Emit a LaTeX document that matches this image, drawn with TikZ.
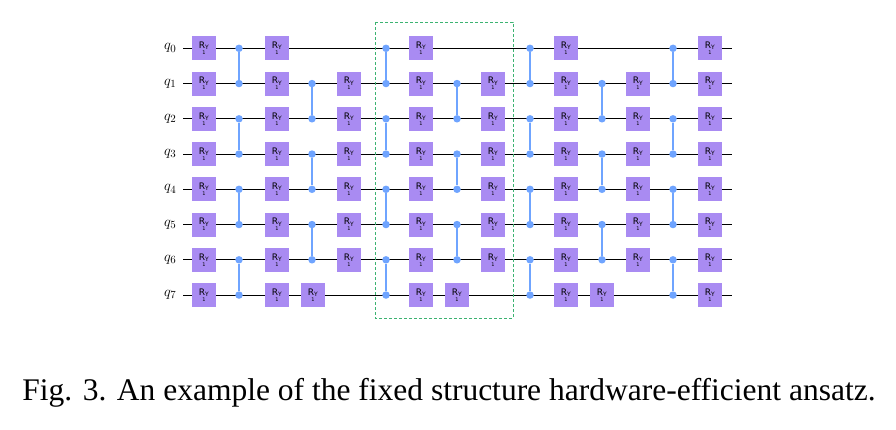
\documentclass[tikz,border=0pt]{standalone}
\usepackage{fontspec}
\setmainfont{Liberation Serif}
\newfontfamily\gatefont{DejaVu Sans}
\definecolor{gatecolor}{HTML}{A98BF2}
\definecolor{czcolor}{HTML}{6FA4FF}
\definecolor{boxcolor}{HTML}{3CB371}
\tikzset{
  wire/.style={line width=0.9pt, black},
  ry/.style={draw=none, fill=gatecolor, minimum width=24pt, minimum height=24pt, inner sep=0pt,
    font=\gatefont\fontsize{9pt}{9pt}\selectfont, align=center},
  dot/.style={circle, fill=czcolor, inner sep=0pt, minimum size=7.5pt},
  cz/.style={czcolor, line width=1.5pt},
  qlabel/.style={anchor=east, font=\fontsize{15pt}{15pt}\selectfont},
}
\newcommand{\rytext}{R\textsubscript{Y}\\[-3pt]{\fontsize{5pt}{5pt}\selectfont 1}}
\begin{document}
\begin{tikzpicture}[x=1pt, y=-1pt]
\useasboundingbox (0,0) rectangle (896,430);
% wires
\foreach \i in {0,...,7} {
  \pgfmathsetmacro{\yy}{48.3+35.25*\i}
  \coordinate (w\i s) at (183,\yy);
  \coordinate (w\i e) at (732,\yy);
  \draw[wire] (w\i s) -- (w\i e);
  \node[qlabel] (lab\i) at (180,\yy) {$q_{\i}$};
}
% dashed box
\draw[boxcolor, densely dashed, line width=0.6pt] (375,22) rectangle (513,318);
% full RY columns
\foreach \c/\x in {a/204, b/277, c/421, d/566, e/710} {
  \foreach \i in {0,...,7} {
    \node[ry] (ry\c\i) at (\x,{48.3+35.25*\i}) {\rytext};
  }
}
% partial RY columns (q1..q6) and extra RY on q7
\foreach \c/\x/\xs in {f/349/313, g/493/457, h/638/602} {
  \foreach \i in {1,...,6} {
    \node[ry] (ry\c\i) at (\x,{48.3+35.25*\i}) {\rytext};
  }
  \node[ry] (ry\c7) at (\xs,{48.3+35.25*7}) {\rytext};
}
% CZ layer on pairs (0,1),(2,3),(4,5),(6,7)
\foreach \c/\x in {p/239, q/386, r/530, s/673} {
  \foreach \i/\j in {0/1, 2/3, 4/5, 6/7} {
    \node[dot] (cz\c\i) at (\x,{48.3+35.25*\i}) {};
    \node[dot] (cz\c\j) at (\x,{48.3+35.25*\j}) {};
    \draw[cz] (cz\c\i) -- (cz\c\j);
  }
}
% CZ layer on pairs (1,2),(3,4),(5,6)
\foreach \c/\x in {t/312, u/457, v/602} {
  \foreach \i/\j in {1/2, 3/4, 5/6} {
    \node[dot] (cz\c\i) at (\x,{48.3+35.25*\i}) {};
    \node[dot] (cz\c\j) at (\x,{48.3+35.25*\j}) {};
    \draw[cz] (cz\c\i) -- (cz\c\j);
  }
}
\node[font=\fontsize{31.5pt}{31.5pt}\selectfont] (cap) at (449,393) {Fig. 3. An example of the fixed structure hardware-efficient ansatz.};
\end{tikzpicture}
\end{document}
